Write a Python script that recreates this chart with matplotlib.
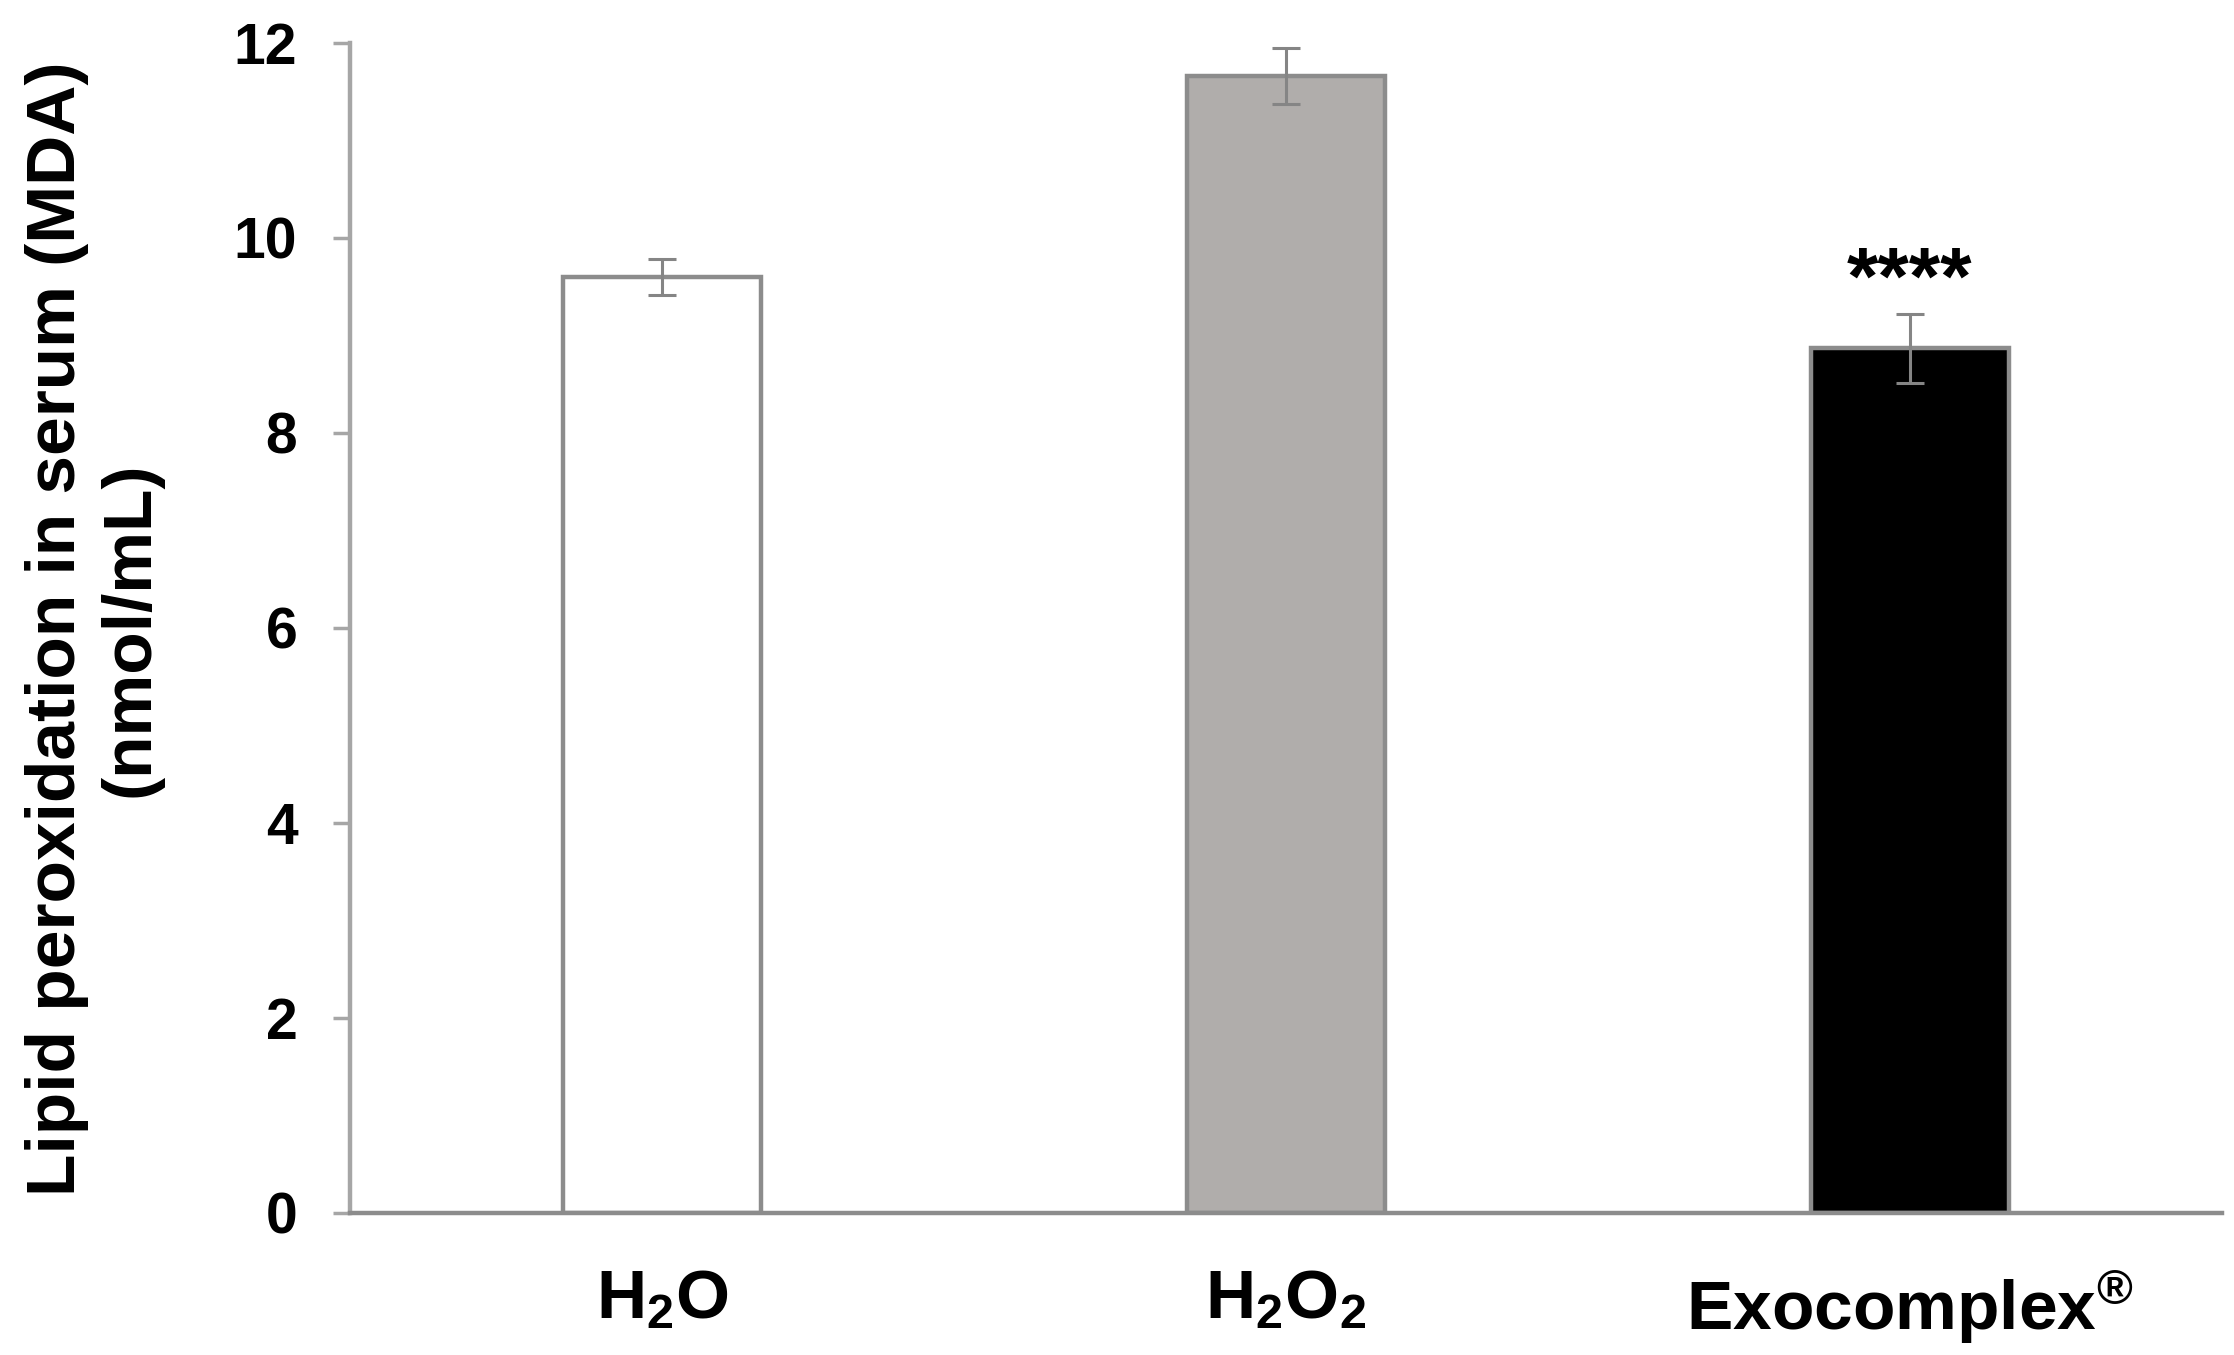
import matplotlib
matplotlib.use("Agg")
import matplotlib.pyplot as plt
import numpy as np

# 数据
groups = ["H$_2$O", "H$_2$O$_2$", "Exocomplex$^{®}$"]
mda_values = [9.60, 11.66, 8.87]
mda_errors = [0.18, 0.29, 0.355]
bar_colors = ["#ffffff", "#b0adab", "#000000"]
star_labels = ["", "", "****"]

plt.rcParams["font.family"] = ["Liberation Sans", "DejaVu Sans"]
plt.rcParams["font.weight"] = "bold"
plt.rcParams["mathtext.fontset"] = "custom"
plt.rcParams["mathtext.rm"] = "Liberation Sans:bold"
plt.rcParams["mathtext.it"] = "Liberation Sans:bold"
plt.rcParams["mathtext.bf"] = "Liberation Sans:bold"
plt.rcParams["mathtext.default"] = "rm"

fig = plt.figure(figsize=(22.34, 13.55), dpi=100)
ax = fig.add_axes([0.1567, 0.1048, 0.8379, 0.8635])

x = np.arange(len(groups))
ax.bar(x, mda_values, width=0.316, color=bar_colors, edgecolor="#8c8c8c",
       linewidth=3.2, zorder=2)
ax.errorbar(x, mda_values, yerr=mda_errors, fmt="none", ecolor="#858585",
            elinewidth=2.2, capsize=10, capthick=2.2, zorder=3)

# 显著性星号
for xi, v, e, s in zip(x, mda_values, mda_errors, star_labels):
    if s:
        ax.text(xi, v + e + 0.1, s, ha="center", va="baseline",
                fontsize=58, fontweight="bold")

ax.set_xlim(-0.5, 2.5)
ax.set_ylim(0, 12)
ax.set_yticks(range(0, 13, 2))
ax.set_xticks(x)
ax.set_xticklabels(groups, fontsize=50, fontweight="bold")
ax.tick_params(axis="x", length=0, pad=40)
ax.tick_params(axis="y", direction="out", length=12, width=2.5,
               color="#a6a6a6", pad=26, labelsize=41)

for side in ["top", "right"]:
    ax.spines[side].set_visible(False)
ax.spines["left"].set_color("#a6a6a6")
ax.spines["left"].set_linewidth(3.2)
ax.spines["bottom"].set_color("#8c8c8c")
ax.spines["bottom"].set_linewidth(3.2)

fig.text(0.042, 0.536, "Lipid peroxidation in serum (MDA)\n(nmol/mL)",
         rotation=90, ha="center", va="center", multialignment="center",
         fontsize=50, fontweight="bold")

fig.savefig("out.png", dpi=100, facecolor="white")
